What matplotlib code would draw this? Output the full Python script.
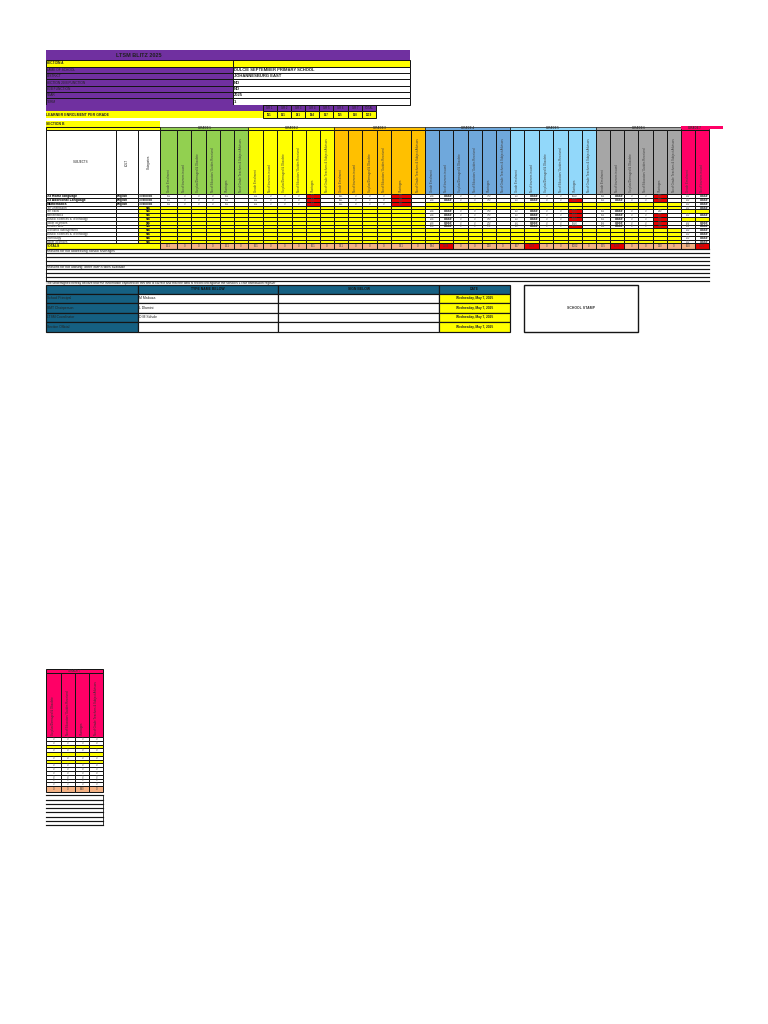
import matplotlib
matplotlib.use("Agg")
import matplotlib.pyplot as plt
from matplotlib.patches import Rectangle

plt.rcParams['font.family'] = ['Liberation Sans', 'DejaVu Sans']

# ---------- content ----------
title = "LTSM BLITZ 2025"
info_labels = ["SECTION A", "NAME OF SCHOOL", "DISTRICT", "SECTION 20 B FUNCTION", "SGB FUNCTION", "YEAR", "TERM"]
info_values = ["", "DULCIE SEPTEMBER PRIMARY SCHOOL", "JOHANNESBURG EAST", "NO", "NO", "2025", "1"]
grade_labels = ["GR 1", "GR 2", "GR 3", "GR 4", "GR 5", "GR 6", "GR 7", "TOTAL"]
enrolment = ["151", "161", "141", "184", "167", "155", "160", "1119"]
bands = ["GRADE 1", "GRADE 2", "GRADE 3", "GRADE 4", "GRADE 5", "GRADE 6", "GRADE 7"]
col_heads = ["Grade Enrolment", "No of learners issued", "Surplus/Damaged & Obsolete",
             "No of Educators' Guides Received", "Shortages",
             "No of Grade Teachers & Subject Advisors"]
pink_heads = ["Grade Enrolment", "No of learners issued"]
pink2_heads = ["Surplus/Damaged & Obsolete", "No of Educators' Guides Received", "Shortages",
               "No of Grade Teachers & Subject Advisors"]
subjects = ["1st Home language", "1st Additional Language", "Mathematics", "Life Orientation",
            "Life Skills", "Mathematics", "Natural Sciences & Technology", "Social Sciences",
            "Creative Arts", "Economic Management", "Natural Sciences & Technology",
            "Technology", "Social Sciences"]
lolt = ["English", "English", "English"]
categories = ["E-Textbook", "E-Textbook", "E-Textbook"] + ["N/A"] * 10
totals = [["151", "0", "0", "0", "151", "0"], ["161", "0", "0", "0", "161", "0"],
          ["141", "0", "0", "0", "141", "0"], ["184", "1104", "0", "0", "920", "0"],
          ["167", "1169", "0", "0", "1002", "0"], ["155", "1085", "0", "0", "930", "0"],
          ["160", "1120"]]
pink2_totals = ["0", "0", "960", "0"]
band_colors = ["#92D050", "#FFFF00", "#FFC000", "#6FA8DC", "#92D8FA", "#A6A6A6", "#FF0066"]
white_rows = [[0, 1, 2]] * 3 + [[0, 1, 4, 5, 6, 7, 8]] * 3
red_rows = [[], [0, 1, 2], [0, 1, 2], [], [1, 4, 5, 6, 8], [0, 1, 5, 6, 7, 8]]
pink_yellow = [4, 6]
pink2_yellow = [2, 4, 6]
reason_a = "Reasons for not addressing School shortages"
reason_b = "Reasons for not utilising  other SMPS titles available"
declaration = ("The undersigned hereby declare that the information captured on this tool is correct and "
               "that the data is reconciled against the school's LTSM distribution register")
sign_roles = ["School Principal", "SMT Chairperson", "LTSM Coordinator", "Section Official"]
sign_names = ["M Mabuza", "L Dlamini", "D M Sithole", ""]
sign_heads = ["TYPE NAME BELOW", "SIGN BELOW", "DATE"]
sign_date = "Wednesday, May 7, 2025"
stamp = "SCHOOL STAMP"

# ---------- page layout (pixels) ----------
PURPLE, YEL, TEAL, SALMON, RED = "#7030A0", "#FFFF00", "#156082", "#F4B183", "#E60000"
LINE = "#151515"
col_x = [[160, 177.3, 191.3, 205.7, 220, 234, 248.3],
         [248.3, 263.3, 277.3, 291.7, 305.7, 320, 334],
         [334, 348.3, 362.3, 376.7, 390.7, 410.7, 424.7],
         [424.7, 439.3, 453.3, 467.7, 481.7, 495.7, 510],
         [510, 524, 539.3, 553.3, 567.7, 581.7, 595.7],
         [595.7, 610, 624.3, 638.3, 652.7, 666.7, 680.7],
         [680.7, 694.7, 708.7]]
left_x = [46, 116, 137.5, 160]
R0, RH, NR = 194.3, 3.78, 13
row_y = [R0 + RH * i for i in range(NR + 1)]
TOT0, TOT1 = row_y[-1], 249
info_y = [60, 66.7, 72.7, 79.3, 85.7, 92, 98.3, 105]
grade_x = [262.7, 276.7, 290.7, 305.3, 319.3, 333.3, 348, 362, 376]
reason_y = [249, 253.3, 257.3, 261.3, 265.3, 269.3, 273.3, 277.3, 281]
sign_y = [285, 293.5, 302.7, 312.7, 321.7, 331.7]
sign_x = [46, 137.7, 277.7, 439.3, 509.5]
p2_x = [45.7, 60.7, 75, 89.3, 103.3]
p2_top, p2_head, p2_r0, p2_rh = 669, 673, 737, 3.78
p2_tot = p2_r0 + 13 * p2_rh
p2_lines = [795, 800, 804.3, 808.3, 812.3, 816.7, 821, 825]

fig = plt.figure(figsize=(7.68, 10.24), dpi=100, facecolor="white")
ax = fig.add_axes([0, 0, 1, 1])
ax.set_xlim(0, 768)
ax.set_ylim(1024, 0)
ax.axis("off")


def cell(x0, x1, y0, y1, fc="none", ec=LINE, lw=0.72, z=2):
    ax.add_patch(Rectangle((x0, y0), x1 - x0, y1 - y0, fc=fc, ec=ec, lw=lw, zorder=z))


def txt(x, y, s, size=2.4, ha="left", va="center", bold=False, color="#202020", rot=0):
    ax.text(x, y, s, fontsize=size, ha=ha, va=va, color=color, rotation=rot,
            fontweight="bold" if bold else "normal", zorder=5, rotation_mode="anchor" if rot else None)


# ---------- section A ----------
cell(46, 410, 49.5, 60, PURPLE, PURPLE, 0)
txt(139, 55.5, title, 4.0, "center", bold=True)
cell(46, 410, 60, 66.7, YEL)
txt(46.5, 63.5, info_labels[0], 2.3, bold=True)
for i in range(1, 7):
    y0, y1 = info_y[i], info_y[i + 1]
    cell(46, 233, y0, y1, PURPLE)
    cell(233, 410, y0, y1, "white")
    txt(46.5, (y0 + y1) / 2, info_labels[i], 2.3)
    txt(234, (y0 + y1) / 2, info_values[i], 3.0, bold=True)
cell(233, 233, 60, 105)
cell(46, grade_x[0], 105, 111, PURPLE, PURPLE, 0)
cell(46, grade_x[0], 111, 118, YEL, YEL, 0)
txt(46.5, 115, "LEARNER ENROLMENT PER GRADE", 2.5, bold=True)
for i, (g, e) in enumerate(zip(grade_labels, enrolment)):
    x0, x1 = grade_x[i], grade_x[i + 1]
    cell(x0, x1, 105, 111, PURPLE)
    cell(x0, x1, 111, 118, YEL)
    txt((x0 + x1) / 2, 108, g, 2.0, "center")
    txt((x0 + x1) / 2, 114.7, e, 2.1, "center", bold=True)
cell(46, 160, 121, 126.5, YEL, YEL, 0)
txt(46.5, 123.7, "SECTION B", 2.4, bold=True)

# ---------- section B header ----------
cell(46, 160, 126.5, 129.5, YEL)
for i in range(3):
    cell(left_x[i], left_x[i + 1], 129.5, R0, "white")
txt(81, 162, "SUBJECTS", 2.2, "center")
txt(126.7, 162, "LOLT", 2.2, "center", rot=90)
txt(148.7, 162, "Categories", 2.2, "center", rot=90)

# ---------- subject rows ----------
for r in range(NR):
    y0, y1 = row_y[r], row_y[r + 1]
    ym = (y0 + y1) / 2
    cell(left_x[0], left_x[1], y0, y1, "white")
    cell(left_x[1], left_x[2], y0, y1, "white")
    cell(left_x[2], left_x[3], y0, y1, "white" if r < 3 else YEL)
    bold = r < 3
    txt(46.5, ym, subjects[r], 2.4 if bold else 2.2, bold=bold, color="black" if bold else "#404040")
    if r < 3:
        txt(117, ym, lolt[r], 2.2, bold=True, color="black")
    txt(148.7 if r >= 3 else 138, ym, categories[r], 2.0, "center" if r >= 3 else "left", bold=True)

cell(46, 160, TOT0, TOT1, YEL)
txt(46.5, 246, "TOTALS", 2.4, bold=True)

# ---------- grade blocks ----------
for g, (band, color, xs) in enumerate(zip(bands, band_colors, col_x)):
    cell(xs[0], xs[-1], 126.5, 129.5, color, LINE, 0.5)
    txt((xs[0] + xs[-1]) / 2, 128, band, 2.1, "center", bold=True, color="#303030")
    heads = col_heads if g < 6 else pink_heads
    for c in range(len(xs) - 1):
        x0, x1 = xs[c], xs[c + 1]
        xm = (x0 + x1) / 2
        cell(x0, x1, 129.5, R0, color)
        ax.text(xm, 192.5, heads[c], fontsize=2.1, rotation=90, ha="center", va="bottom",
                color="#404040", zorder=5)
        for r in range(NR):
            y0, y1 = row_y[r], row_y[r + 1]
            if g < 6:
                fc = "white" if r in white_rows[g] else YEL
                if c == 4 and r in red_rows[g]:
                    fc = RED
                filled = r in white_rows[g]
            else:
                fc = YEL if r in pink_yellow else "white"
                filled = r not in pink_yellow
            cell(x0, x1, y0, y1, fc)
            if filled:
                if c == 1 and g >= 3:
                    txt(x1 - 0.4, (y0 + y1) / 2, "####", 2.8, "right", bold=True, color="black")
                elif c != 5:
                    val = totals[g][c] if c in (0, 4) else "0"
                    txt(xm, (y0 + y1) / 2, val, 1.9, "center", color="#505050")
        total_red = g >= 3 and c == 1
        cell(x0, x1, TOT0, TOT1, RED if total_red else SALMON)
        txt(xm, (TOT0 + TOT1) / 2, totals[g][c], 2.0, "center", color="#404040")

cell(680.7, 723, 126.3, 128.6, band_colors[6], band_colors[6], 0, z=4)

# ---------- reasons ----------
for y in reason_y:
    ax.plot([46, 709], [y, y], color=LINE, lw=0.85, zorder=3)
ax.plot([46, 46], [reason_y[0], reason_y[-1]], color=LINE, lw=0.7, zorder=3)
txt(46.5, 250.9, reason_a, 2.4, color="#202020")
txt(46.5, 267, reason_b, 2.4, color="#202020")
txt(46.5, 283, declaration, 2.3, color="#202020")

# ---------- sign-off table ----------
for i in range(5):
    y0, y1 = sign_y[i], sign_y[i + 1]
    ym = (y0 + y1) / 2
    for c in range(4):
        x0, x1 = sign_x[c], sign_x[c + 1]
        if i == 0 or c == 0:
            fc = TEAL
        elif c == 3:
            fc = YEL
        else:
            fc = "white"
        cell(x0, x1, y0, y1, fc, lw=0.85)
    if i == 0:
        for c, h in enumerate(sign_heads):
            txt((sign_x[c + 1] + sign_x[c + 2]) / 2, ym, h, 2.4, "center", bold=True, color="#111111")
    else:
        txt(46.7, ym, sign_roles[i - 1], 2.4, color="#222222")
        txt(138.6, ym, sign_names[i - 1], 2.5, color="#222222")
        txt((sign_x[3] + sign_x[4]) / 2, ym, sign_date, 2.3, "center", bold=True)
cell(523.5, 638.3, 285, 331.7, "white", lw=1.0)
txt(581, 308.3, stamp, 2.5, "center", bold=True, color="#333333")

# ---------- second page block ----------
cell(p2_x[0], p2_x[4], p2_top, p2_head, band_colors[6])
txt((p2_x[0] + p2_x[4]) / 2, 670.9, bands[6], 2.1, "center", color="#303030")
for c in range(4):
    x0, x1 = p2_x[c], p2_x[c + 1]
    xm = (x0 + x1) / 2
    cell(x0, x1, p2_head, p2_r0, band_colors[6])
    ax.text(xm, 735, pink2_heads[c], fontsize=2.1, rotation=90, ha="center", va="bottom",
            color="#303030", zorder=5)
    for r in range(NR):
        y0 = p2_r0 + r * p2_rh
        y1 = y0 + p2_rh
        yel = r in pink2_yellow
        cell(x0, x1, y0, y1, YEL if yel else "white")
        if not yel:
            txt(xm, (y0 + y1) / 2, "0", 1.9, "center", color="#505050")
    cell(x0, x1, p2_tot, p2_tot + 5.5, SALMON)
    txt(xm, p2_tot + 2.8, pink2_totals[c], 2.0, "center", color="#404040")
for y in p2_lines:
    ax.plot([p2_x[0], p2_x[4]], [y, y], color=LINE, lw=0.85, zorder=3)
ax.plot([p2_x[4], p2_x[4]], [p2_lines[0], p2_lines[-1]], color=LINE, lw=0.6, zorder=3)

fig.savefig("out.png", dpi=100, facecolor="white")
